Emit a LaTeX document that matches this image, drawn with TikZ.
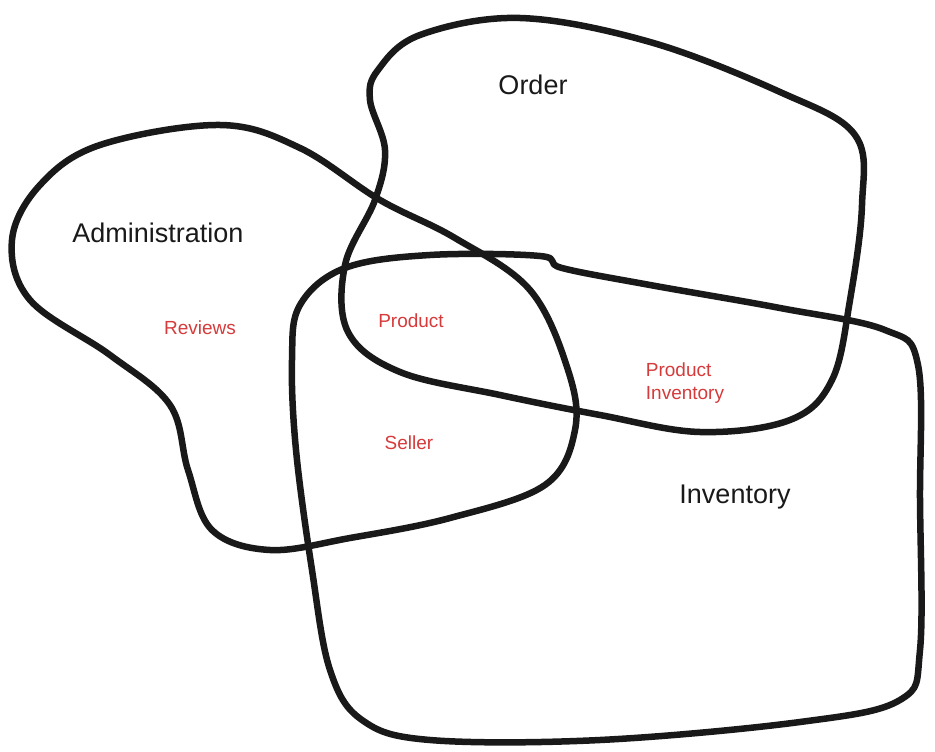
\documentclass[tikz,border=0pt]{standalone}
\usepackage{fontspec}
\setmainfont{Liberation Sans}
\begin{document}
\begin{tikzpicture}[x=1pt,y=-1pt,
  blob/.style={line width=6.5pt,draw=black!90,line join=round},
  title/.style={font=\fontsize{27}{30}\selectfont,text=black!90},
  item/.style={font=\fontsize{19}{23}\selectfont,text={rgb,255:red,214;green,58;blue,58},align=left}]
\useasboundingbox (0,0) rectangle (935,752);
\draw[blob] plot[smooth cycle,tension=0.6] coordinates {(220,125)(300,148)(380,200)(455,238)(530,290)(568,370)(575,430)(545,485)(450,518)(350,538)(270,550)(212,530)(188,470)(170,405)(110,355)(30,300)(12,240)(40,185)(100,145)};
\draw[blob] plot[smooth cycle,tension=0.6] coordinates {(378,70)(420,35)(520,18)(650,42)(780,92)(855,135)(862,205)(850,300)(832,380)(790,420)(700,432)(600,415)(500,395)(400,372)(348,332)(345,265)(375,200)(385,150)(370,100)};
\draw[blob] plot[smooth cycle,tension=0.6] coordinates {(300,305)(345,268)(430,255)(540,256)(562,268)(650,285)(780,308)(885,330)(918,365)(920,500)(920,650)(900,700)(800,722)(600,740)(430,740)(362,720)(330,670)(312,570)(296,450)(292,360)};
\node[title] (order) at (533,85) {Order};
\node[title] (admin) at (158,233) {Administration};
\node[title] (inv) at (735,497) {Inventory};
\node[item] (rev) at (200,328) {Reviews};
\node[item] (prod) at (411,321) {Product};
\node[item] (seller) at (409,443) {Seller};
\node[item] (pinv) at (685,383) {Product\\Inventory};
\end{tikzpicture}
\end{document}
